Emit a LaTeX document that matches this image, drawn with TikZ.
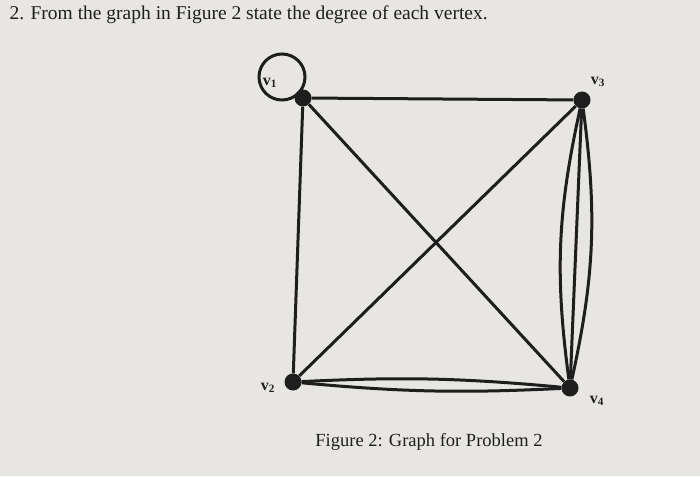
\documentclass[tikz,border=0pt]{standalone}
\usepackage{fontspec}
\setmainfont{Liberation Serif}
\definecolor{bg}{RGB}{232,230,226}
\definecolor{ink}{RGB}{30,30,30}
\begin{document}
\begin{tikzpicture}[x=1pt,y=-1pt,
  vtx/.style={circle,fill=ink,inner sep=0pt,minimum size=17pt},
  edge/.style={draw=ink,line width=3pt},
  lbl/.style={font=\bfseries\fontsize{16}{16}\selectfont,text=ink}]
\fill[bg] (0,0) rectangle (700,476);
\useasboundingbox (0,0) rectangle (700,476);
\node[anchor=west,text=ink,font=\fontsize{19.5}{19.5}\selectfont] (title) at (6,15) {2. From the graph in Figure 2 state the degree of each vertex.};
\node[vtx] (v1) at (303,98) {};
\node[vtx] (v3) at (582,100) {};
\node[vtx] (v2) at (293,382) {};
\node[vtx] (v4) at (570,388) {};
\draw[edge] (282,77) circle (23);
\draw[edge] (v1) -- (v3);
\draw[edge] (v1) -- (v2);
\draw[edge] (v1) -- (v4);
\draw[edge] (v2) -- (v3);
\draw[edge] (v3) -- (v4);
\draw[edge] (v3) to[bend left=10] (v4);
\draw[edge] (v3) to[bend right=10] (v4);
\draw[edge] (v2) to[bend left=4] (v4);
\draw[edge] (v2) to[bend right=4] (v4);
\node[lbl] (l1) at (270,83) {v$_{\mathbf 1}$};
\node[lbl] (l3) at (598,82) {v$_{\mathbf 3}$};
\node[lbl] (l2) at (268,388) {v$_{\mathbf 2}$};
\node[lbl] (l4) at (597,401) {v$_{\mathbf 4}$};
\node[text=ink,font=\fontsize{18.5}{18.5}\selectfont] (cap) at (429,442) {Figure 2: Graph for Problem 2};
\end{tikzpicture}
\end{document}
